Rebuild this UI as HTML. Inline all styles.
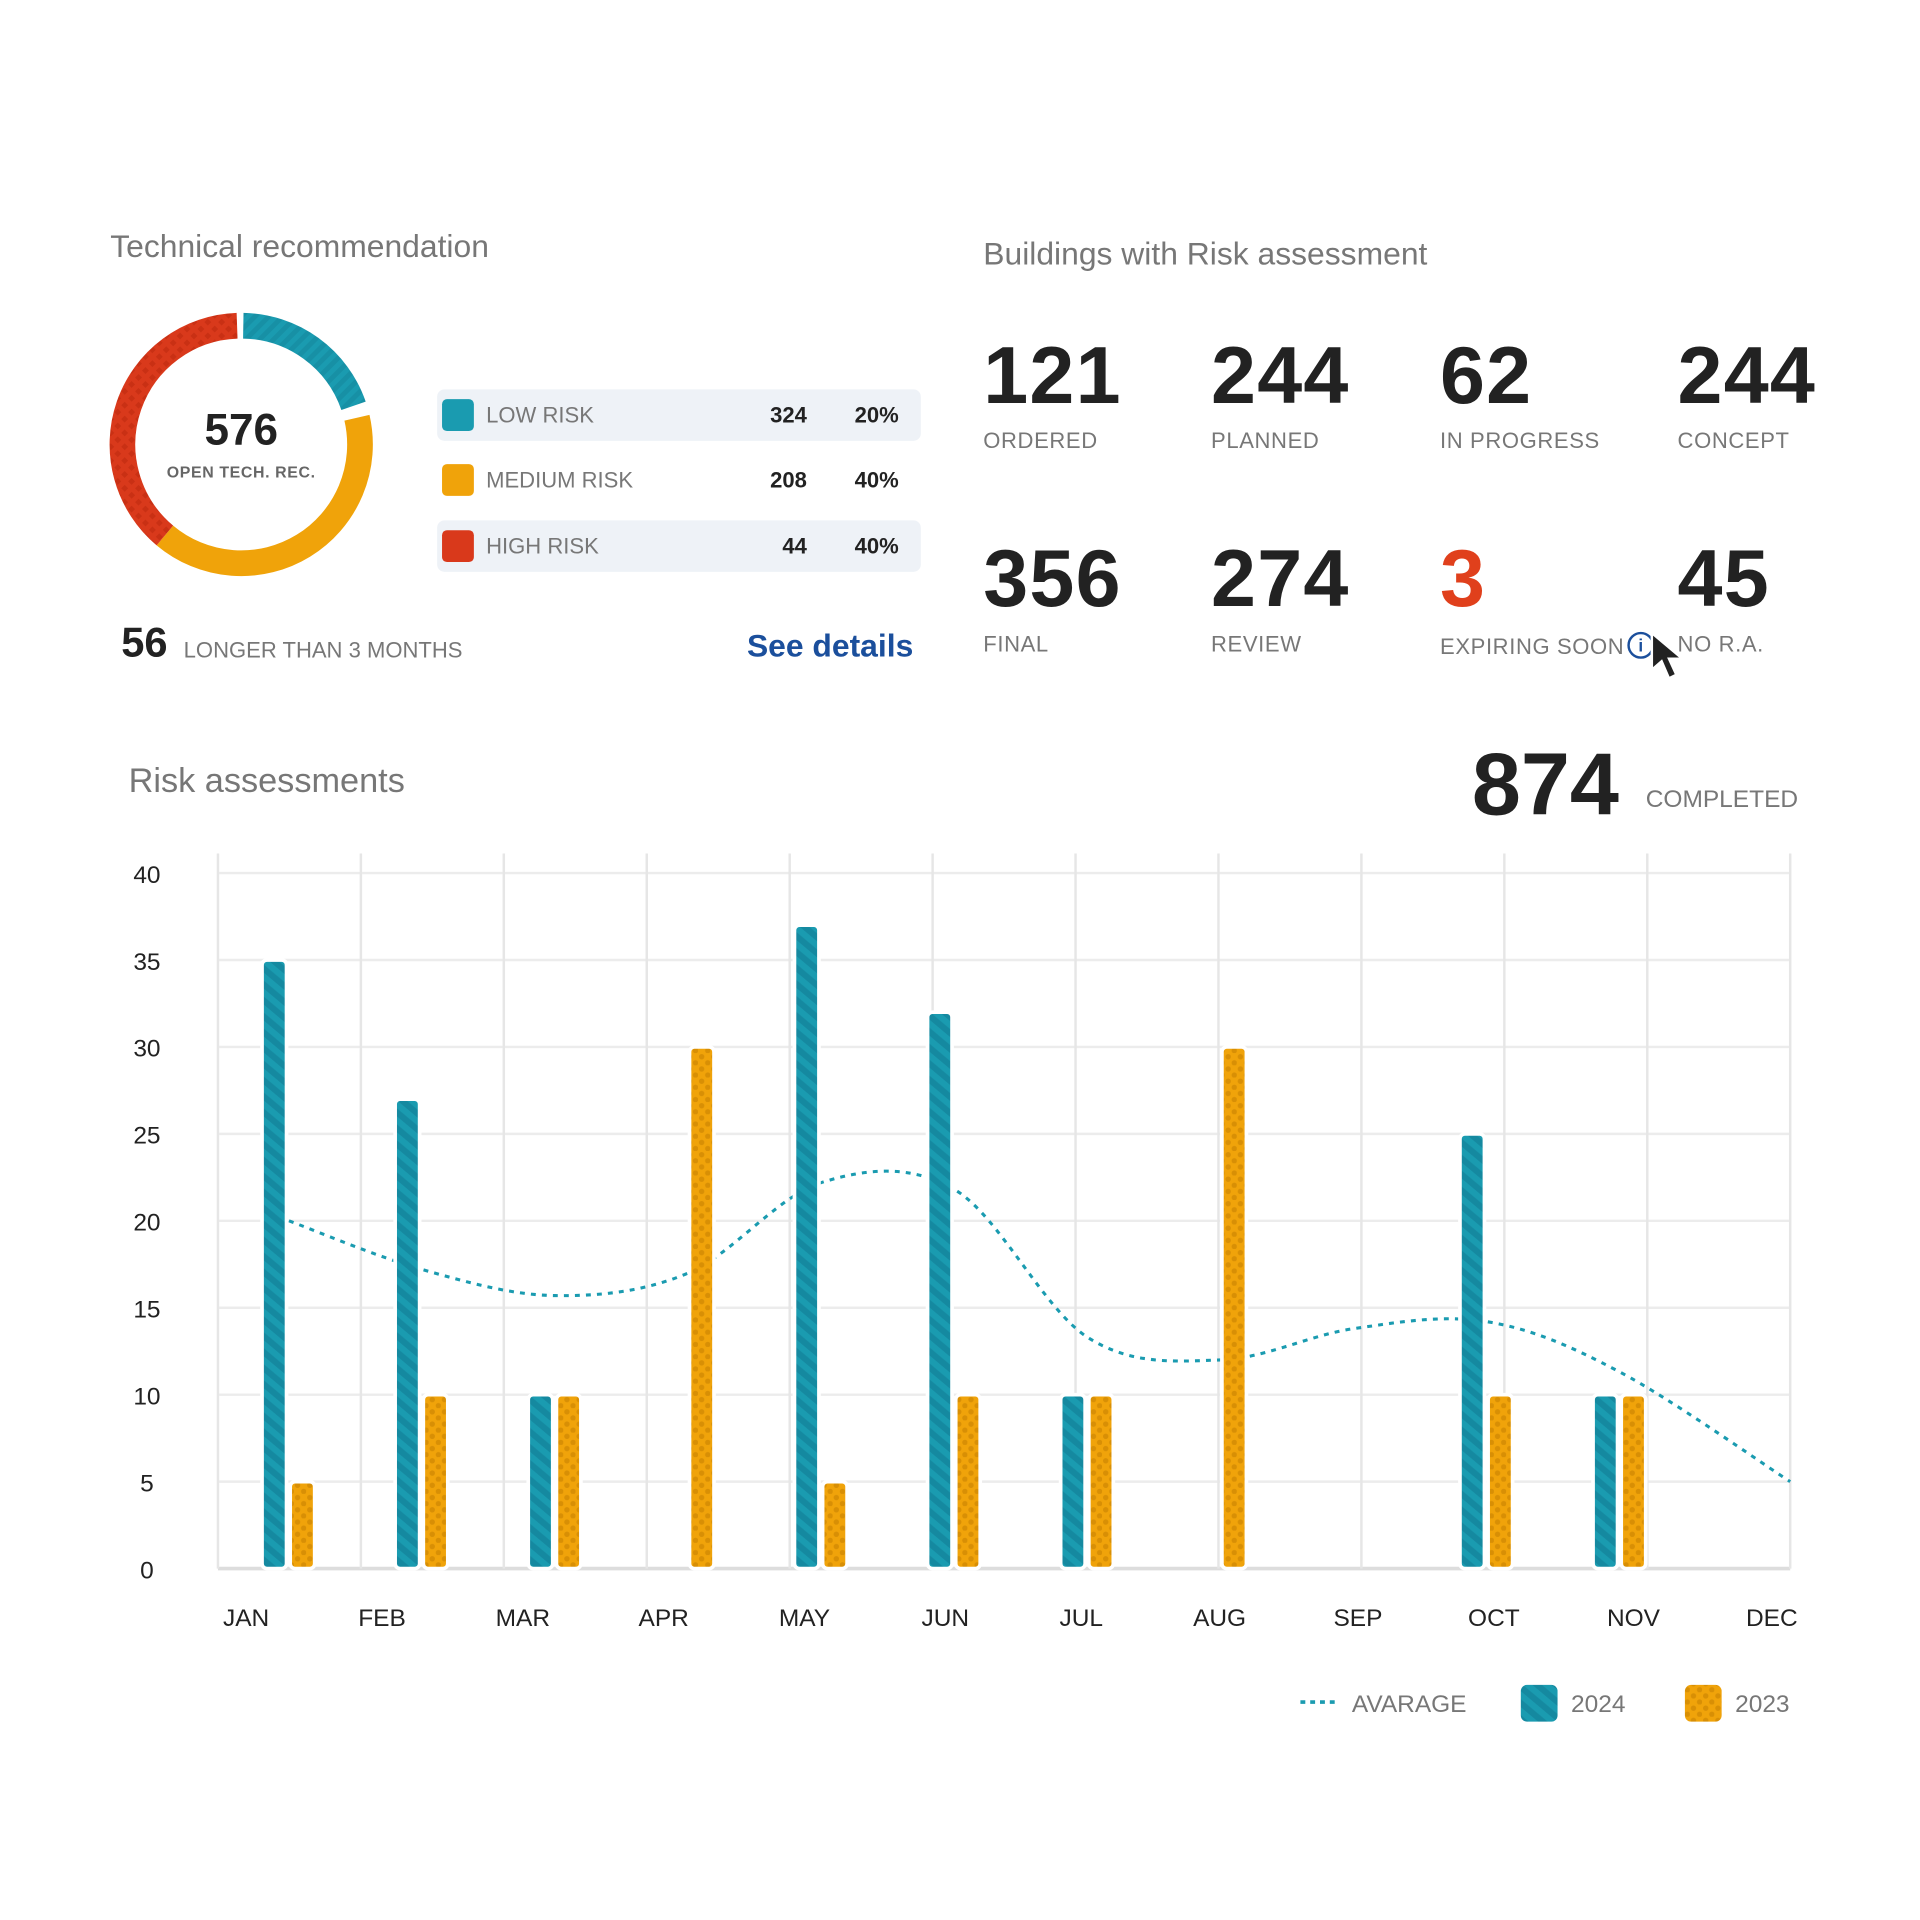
<!DOCTYPE html>
<html><head><meta charset="utf-8"><style>
html,body{margin:0;padding:0;background:#fff;width:1920px;height:1920px;overflow:hidden}
#root{position:absolute;left:0;top:0;width:1568px;height:1568px;transform:scale(1.22449);transform-origin:0 0;font-family:"Liberation Sans",Arial,sans-serif}
.a{position:absolute;white-space:nowrap}
.t{color:#777;font-size:26px}
.big{color:#222;font-size:66px;font-weight:bold;letter-spacing:1px}
.lab{color:#777;font-size:18px;letter-spacing:.5px}
.row{position:absolute;left:357px;width:395px;height:42px;border-radius:6px}
.sw{position:absolute;left:4px;top:8px;width:26px;height:26px;border-radius:4px}
.rl{position:absolute;left:40px;top:11px;font-size:18px;color:#777}
.rn{position:absolute;right:93px;top:11px;font-size:18px;font-weight:bold;color:#222}
.rp{position:absolute;right:18px;top:11px;font-size:18px;font-weight:bold;color:#222}
</style></head><body><div id="root">
<div class="a t" style="left:90px;top:186px">Technical recommendation</div>
<svg class="a" style="left:0;top:0" width="420" height="500">
<defs>
<pattern id="ps" width="8" height="8" patternUnits="userSpaceOnUse" patternTransform="rotate(45)"><rect width="8" height="8" fill="#1a9bb0"/><rect width="4" height="8" fill="#1790a5"/></pattern>
<pattern id="pr" width="8" height="8" patternUnits="userSpaceOnUse" patternTransform="rotate(45)"><rect width="8" height="8" fill="#d9391b"/><rect width="4" height="4" fill="#c93014"/></pattern>
</defs>
<g id="donut"></g>
<text x="197" y="363" text-anchor="middle" font-size="36" font-weight="bold" fill="#222" font-family="Liberation Sans">576</text>
<text x="197" y="390" text-anchor="middle" font-size="13" font-weight="bold" fill="#666" font-family="Liberation Sans" letter-spacing="0.5">OPEN TECH. REC.</text>
</svg>
<div class="row" style="top:318px;background:#eef2f7"><div class="sw" style="background:#1a9bb0"></div><div class="rl">LOW RISK</div><div class="rn">324</div><div class="rp">20%</div></div>
<div class="row" style="top:371px"><div class="sw" style="background:#f0a30a"></div><div class="rl">MEDIUM RISK</div><div class="rn">208</div><div class="rp">40%</div></div>
<div class="row" style="top:425px;background:#eef2f7"><div class="sw" style="background:#d9391b"></div><div class="rl">HIGH RISK</div><div class="rn">44</div><div class="rp">40%</div></div>
<div class="a" style="left:99px;top:506px;font-size:34px;font-weight:bold;color:#222">56</div>
<div class="a" style="left:150px;top:521px;font-size:18px;color:#777">LONGER THAN 3 MONTHS</div>
<div class="a" style="left:610px;top:512px;font-size:26px;font-weight:bold;color:#1b4f9c">See details</div>

<div class="a t" style="left:803px;top:192px">Buildings with Risk assessment</div>
<div class="a big" style="left:803px;top:268px">121</div><div class="a lab" style="left:803px;top:350px">ORDERED</div>
<div class="a big" style="left:989px;top:268px">244</div><div class="a lab" style="left:989px;top:350px">PLANNED</div>
<div class="a big" style="left:1176px;top:268px">62</div><div class="a lab" style="left:1176px;top:350px">IN PROGRESS</div>
<div class="a big" style="left:1370px;top:268px">244</div><div class="a lab" style="left:1370px;top:350px">CONCEPT</div>
<div class="a big" style="left:803px;top:434px">356</div><div class="a lab" style="left:803px;top:516px">FINAL</div>
<div class="a big" style="left:989px;top:434px">274</div><div class="a lab" style="left:989px;top:516px">REVIEW</div>
<div class="a big" style="left:1176px;top:434px;color:#e0401c">3</div><div class="a lab" style="left:1176px;top:518px">EXPIRING SOON</div>
<div class="a" style="left:1329px;top:516px;width:18px;height:18px;border:2px solid #1b4f9c;border-radius:50%;color:#1b4f9c;font-size:14px;font-weight:bold;text-align:center;line-height:18px">i</div>
<div class="a big" style="left:1370px;top:434px">45</div><div class="a lab" style="left:1370px;top:516px">NO R.A.</div>
<svg class="a" style="left:1346px;top:514px" width="36" height="50"><path d="M3 3 L3 33 L11 26 L17 40 L23 37 L17 24 L28 24 Z" fill="#222" stroke="#fff" stroke-width="2"/></svg>

<div class="a t" style="left:105px;top:622px;font-size:28px">Risk assessments</div>
<div class="a" style="left:1202px;top:600px;font-size:72px;font-weight:bold;color:#222">874</div>
<div class="a" style="left:1344px;top:642px;font-size:20px;color:#777">COMPLETED</div>

<svg class="a" style="left:0;top:0" width="1568" height="1568" id="chart">
<defs>
<pattern id="p24" width="10" height="10" patternUnits="userSpaceOnUse" patternTransform="rotate(-50)"><rect width="10" height="10" fill="#1a9bb0"/><rect width="5" height="10" fill="#1589a0"/></pattern>
<pattern id="p23" width="10" height="10" patternUnits="userSpaceOnUse"><rect width="10" height="10" fill="#f0a30a"/><circle cx="3" cy="3" r="2.2" fill="#d88f05"/><circle cx="8" cy="8" r="2.2" fill="#d88f05"/></pattern>
</defs>
<g id="grid"></g><g id="avg"></g><g id="bars"></g><g id="labels"></g>
</svg>

<svg class="a" style="left:1060px;top:1372px" width="420" height="40">
<line x1="2" y1="18" x2="30" y2="18" stroke="#1a9bb0" stroke-width="3" stroke-dasharray="4 4"/>
<text x="44" y="26" font-size="20" fill="#777" font-family="Liberation Sans">AVARAGE</text>
<rect x="182" y="4" width="30" height="30" rx="5" fill="url(#p24)"/>
<text x="223" y="26" font-size="20" fill="#777" font-family="Liberation Sans">2024</text>
<rect x="316" y="4" width="30" height="30" rx="5" fill="url(#p23)"/>
<text x="357" y="26" font-size="20" fill="#777" font-family="Liberation Sans">2023</text>
</svg>
</div>
<script>
const NS="http://www.w3.org/2000/svg";
const months=["JAN","FEB","MAR","APR","MAY","JUN","JUL","AUG","SEP","OCT","NOV","DEC"];
const values2024=[35,27,10,0,37,32,10,0,0,25,10,0];
const values2023=[5,10,10,30,5,10,10,30,0,10,10,0];
const average=[20,17.2,15.7,17,22.2,21.8,13.3,12,13.8,14.2,11.3,5];
const yTicks=[0,5,10,15,20,25,30,35,40];
const donutValues=[70,143,138];
const donutGaps=[1,77,220];

function el(t,a,p){const e=document.createElementNS(NS,t);for(const k in a)e.setAttribute(k,a[k]);p.appendChild(e);return e;}
// donut
const dg=document.getElementById('donut');const cx=197,cy=363,R=97;
const fills=['url(#ps)','#f0a30a','url(#pr)'];const dnames=['donut-low-risk','donut-medium-risk','donut-high-risk'];
function pt(a){const r=(a-90)*Math.PI/180;return [cx+R*Math.cos(r),cy+R*Math.sin(r)];}
donutValues.forEach((v,i)=>{const s=donutGaps[i],e=s+v;const p1=pt(s),p2=pt(e);
 const p=el('path',{d:`M${p1[0]} ${p1[1]} A${R} ${R} 0 ${v>180?1:0} 1 ${p2[0]} ${p2[1]}`,fill:'none',stroke:fills[i],'stroke-width':21},dg);
 
 });
// chart
const X0=178,X1=1462,Y0=1281,Y40=713;
const y=v=>Y0-(v/40)*(Y0-Y40);
const gc=i=>236+108.7*i;
const grid=document.getElementById('grid'),lab=document.getElementById('labels'),bars=document.getElementById('bars');
yTicks.forEach(v=>{const l=el('line',{x1:X0,x2:X1,y1:y(v),y2:y(v),stroke:v===0?'#ddd':'#ececec','stroke-width':v===0?3:2},grid);
 
 
 const t=el('text',{x:120,y:y(v)+8,'text-anchor':'middle','font-size':20,fill:'#222','font-family':'Liberation Sans'},lab);t.textContent=v;
 
 });
for(let i=0;i<12;i++){const x=X0+i*(X1-X0)/11;const l=el('line',{x1:x,x2:x,y1:697,y2:Y0,stroke:'#e6e6e6','stroke-width':2},grid);
 
 }
const labX=[201,312,427,542,657,772,883,996,1109,1220,1334,1447];
months.forEach((m,i)=>{const t=el('text',{x:labX[i],y:1328,'text-anchor':'middle','font-size':20,fill:'#222','font-family':'Liberation Sans'},lab);t.textContent=m;
 
 });
// average line
const pts=average.map((v,i)=>[i===11?X1:gc(i),y(v)]);
let d=`M${pts[0][0]} ${pts[0][1]}`;
for(let i=0;i<pts.length-1;i++){const p0=pts[Math.max(0,i-1)],p1=pts[i],p2=pts[i+1],p3=pts[Math.min(pts.length-1,i+2)];
 d+=` C${p1[0]+(p2[0]-p0[0])/6} ${p1[1]+(p2[1]-p0[1])/6} ${p2[0]-(p3[0]-p1[0])/6} ${p2[1]-(p3[1]-p1[1])/6} ${p2[0]} ${p2[1]}`;}
const al=el('path',{d,fill:'none',stroke:'#1a9bb0','stroke-width':2.5,'stroke-dasharray':'4 5'},document.getElementById('avg'));


function bar(x,v,f,n){if(v<=0)return;const b=el('rect',{x:x-10,y:y(v),width:20,height:Y0-y(v),rx:4,fill:f,stroke:'#fff','stroke-width':3},bars);
 
 }
months.forEach((m,i)=>{const c=gc(i);
 if(values2024[i]>0){bar(c-12,values2024[i],'url(#p24)','bar-2024-'+m.toLowerCase());bar(c+11,values2023[i],'url(#p23)','bar-2023-'+m.toLowerCase());}
 else bar(c+11-(values2023[i]>0?0:0),values2023[i],'url(#p23)','bar-2023-'+m.toLowerCase());});
</script>
</body></html>
